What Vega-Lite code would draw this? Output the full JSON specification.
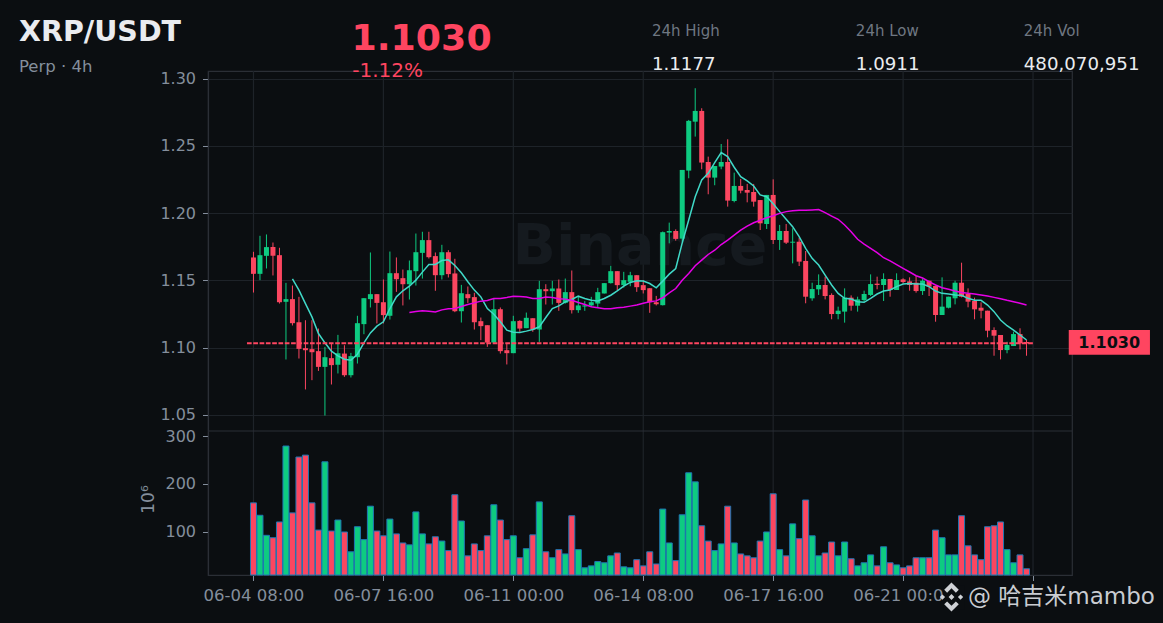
{
  "$schema": "https://vega.github.io/schema/vega-lite/v6.json",
  "description": "XRP/USDT perp 4h candles with MA lines and volume",
  "width": 864,
  "height": 504,
  "autosize": {"type": "none"},
  "padding": {"left": 208, "top": 71, "right": 91, "bottom": 48},
  "background": "#0b0e11",
  "config": {
    "font": "DejaVu Sans",
    "view": {"stroke": "#2b2f36", "strokeWidth": 1.2},
    "axis": {
      "labelColor": "#848e9c", "labelFontSize": 16, "titleColor": "#848e9c",
      "gridColor": "#1e2329", "gridWidth": 1.2, "domainColor": "#2b2f36", "domainWidth": 1.2,
      "tickColor": "#848e9c", "tickSize": 5.5, "tickWidth": 1, "labelPadding": 7
    }
  },
  "title": {
    "text": "XRP/USDT",
    "subtitle": "Perp · 4h",
    "anchor": "start",
    "frame": "group",
    "dx": -189,
    "offset": -55,
    "fontSize": 28.5,
    "fontWeight": "bold",
    "color": "#eaecef",
    "subtitleFontSize": 16.5,
    "subtitleColor": "#848e9c",
    "subtitlePadding": 13
  },
  "datasets": {
    "candles": [
      {"t":"2025-06-04T08:00Z","o":1.1670,"h":1.1712,"l":1.1409,"c":1.1548,"v":160,"side":"down","ma7":null,"ma25":null},
      {"t":"2025-06-04T12:00Z","o":1.1548,"h":1.1831,"l":1.1501,"c":1.1687,"v":134,"side":"up","ma7":null,"ma25":null},
      {"t":"2025-06-04T16:00Z","o":1.1682,"h":1.1841,"l":1.1588,"c":1.1747,"v":92,"side":"up","ma7":null,"ma25":null},
      {"t":"2025-06-04T20:00Z","o":1.1747,"h":1.1781,"l":1.1536,"c":1.1682,"v":87,"side":"down","ma7":null,"ma25":null},
      {"t":"2025-06-05T00:00Z","o":1.1687,"h":1.1742,"l":1.1327,"c":1.1337,"v":120,"side":"down","ma7":null,"ma25":null},
      {"t":"2025-06-05T04:00Z","o":1.1340,"h":1.1481,"l":1.0911,"c":1.1360,"v":279,"side":"up","ma7":null,"ma25":null},
      {"t":"2025-06-05T08:00Z","o":1.1360,"h":1.1461,"l":1.1164,"c":1.1181,"v":139,"side":"down","ma7":1.1511,"ma25":null},
      {"t":"2025-06-05T12:00Z","o":1.1188,"h":1.1377,"l":1.0918,"c":1.0990,"v":256,"side":"down","ma7":1.1427,"ma25":null},
      {"t":"2025-06-05T16:00Z","o":1.0995,"h":1.1203,"l":1.0688,"c":1.0980,"v":260,"side":"down","ma7":1.1327,"ma25":null},
      {"t":"2025-06-05T20:00Z","o":1.0988,"h":1.1203,"l":1.0757,"c":1.0965,"v":160,"side":"down","ma7":1.1228,"ma25":null},
      {"t":"2025-06-06T00:00Z","o":1.0973,"h":1.1141,"l":1.0826,"c":1.0856,"v":103,"side":"down","ma7":1.1104,"ma25":null},
      {"t":"2025-06-06T04:00Z","o":1.0856,"h":1.1005,"l":1.0494,"c":1.0928,"v":246,"side":"up","ma7":1.1035,"ma25":null},
      {"t":"2025-06-06T08:00Z","o":1.0921,"h":1.1030,"l":1.0725,"c":1.0869,"v":101,"side":"down","ma7":1.0973,"ma25":null},
      {"t":"2025-06-06T12:00Z","o":1.0871,"h":1.1094,"l":1.0807,"c":1.0958,"v":124,"side":"up","ma7":1.0938,"ma25":null},
      {"t":"2025-06-06T16:00Z","o":1.0955,"h":1.1017,"l":1.0782,"c":1.0794,"v":99,"side":"down","ma7":1.0913,"ma25":null},
      {"t":"2025-06-06T20:00Z","o":1.0794,"h":1.0960,"l":1.0777,"c":1.0936,"v":57.5,"side":"up","ma7":1.0906,"ma25":null},
      {"t":"2025-06-07T00:00Z","o":1.0928,"h":1.1236,"l":1.0881,"c":1.1181,"v":110,"side":"up","ma7":1.0950,"ma25":null},
      {"t":"2025-06-07T04:00Z","o":1.1174,"h":1.1367,"l":1.1099,"c":1.1367,"v":83,"side":"up","ma7":1.1035,"ma25":null},
      {"t":"2025-06-07T08:00Z","o":1.1360,"h":1.1707,"l":1.1298,"c":1.1397,"v":153,"side":"up","ma7":1.1109,"ma25":null},
      {"t":"2025-06-07T12:00Z","o":1.1397,"h":1.1397,"l":1.1179,"c":1.1332,"v":101,"side":"down","ma7":1.1159,"ma25":null},
      {"t":"2025-06-07T16:00Z","o":1.1337,"h":1.1506,"l":1.1179,"c":1.1241,"v":91,"side":"down","ma7":1.1191,"ma25":null},
      {"t":"2025-06-07T20:00Z","o":1.1236,"h":1.1714,"l":1.1208,"c":1.1553,"v":126,"side":"up","ma7":1.1290,"ma25":null},
      {"t":"2025-06-08T00:00Z","o":1.1553,"h":1.1670,"l":1.1414,"c":1.1508,"v":95,"side":"down","ma7":1.1377,"ma25":null},
      {"t":"2025-06-08T04:00Z","o":1.1516,"h":1.1580,"l":1.1313,"c":1.1471,"v":76,"side":"down","ma7":1.1422,"ma25":null},
      {"t":"2025-06-08T08:00Z","o":1.1471,"h":1.1647,"l":1.1357,"c":1.1575,"v":72,"side":"up","ma7":1.1456,"ma25":1.1260},
      {"t":"2025-06-08T12:00Z","o":1.1568,"h":1.1848,"l":1.1461,"c":1.1709,"v":141,"side":"up","ma7":1.1501,"ma25":1.1268},
      {"t":"2025-06-08T16:00Z","o":1.1704,"h":1.1861,"l":1.1513,"c":1.1799,"v":95,"side":"up","ma7":1.1561,"ma25":1.1273},
      {"t":"2025-06-08T20:00Z","o":1.1799,"h":1.1861,"l":1.1662,"c":1.1672,"v":74,"side":"down","ma7":1.1618,"ma25":1.1270},
      {"t":"2025-06-09T00:00Z","o":1.1680,"h":1.1707,"l":1.1422,"c":1.1538,"v":89,"side":"down","ma7":1.1618,"ma25":1.1265},
      {"t":"2025-06-09T04:00Z","o":1.1538,"h":1.1764,"l":1.1506,"c":1.1709,"v":80,"side":"up","ma7":1.1647,"ma25":1.1280},
      {"t":"2025-06-09T08:00Z","o":1.1709,"h":1.1724,"l":1.1521,"c":1.1546,"v":60,"side":"down","ma7":1.1652,"ma25":1.1288},
      {"t":"2025-06-09T12:00Z","o":1.1551,"h":1.1660,"l":1.1263,"c":1.1270,"v":177,"side":"down","ma7":1.1610,"ma25":1.1290},
      {"t":"2025-06-09T16:00Z","o":1.1270,"h":1.1466,"l":1.1186,"c":1.1404,"v":122,"side":"up","ma7":1.1556,"ma25":1.1305},
      {"t":"2025-06-09T20:00Z","o":1.1397,"h":1.1454,"l":1.1332,"c":1.1367,"v":49,"side":"down","ma7":1.1489,"ma25":1.1320},
      {"t":"2025-06-10T00:00Z","o":1.1375,"h":1.1407,"l":1.1134,"c":1.1188,"v":74,"side":"down","ma7":1.1427,"ma25":1.1332},
      {"t":"2025-06-10T04:00Z","o":1.1196,"h":1.1223,"l":1.1055,"c":1.1159,"v":60,"side":"down","ma7":1.1377,"ma25":1.1345},
      {"t":"2025-06-10T08:00Z","o":1.1166,"h":1.1166,"l":1.1005,"c":1.1037,"v":91,"side":"down","ma7":1.1290,"ma25":1.1350},
      {"t":"2025-06-10T12:00Z","o":1.1037,"h":1.1365,"l":1.1030,"c":1.1285,"v":156,"side":"up","ma7":1.1248,"ma25":1.1365},
      {"t":"2025-06-10T16:00Z","o":1.1285,"h":1.1298,"l":1.0955,"c":1.0973,"v":124,"side":"down","ma7":1.1191,"ma25":1.1365},
      {"t":"2025-06-10T20:00Z","o":1.0980,"h":1.1030,"l":1.0874,"c":1.0958,"v":83,"side":"down","ma7":1.1129,"ma25":1.1372},
      {"t":"2025-06-11T00:00Z","o":1.0958,"h":1.1236,"l":1.0958,"c":1.1196,"v":91,"side":"up","ma7":1.1114,"ma25":1.1382},
      {"t":"2025-06-11T04:00Z","o":1.1198,"h":1.1203,"l":1.1117,"c":1.1141,"v":45,"side":"down","ma7":1.1112,"ma25":1.1379},
      {"t":"2025-06-11T08:00Z","o":1.1144,"h":1.1260,"l":1.1144,"c":1.1221,"v":64,"side":"up","ma7":1.1122,"ma25":1.1375},
      {"t":"2025-06-11T12:00Z","o":1.1218,"h":1.1218,"l":1.1117,"c":1.1134,"v":93,"side":"down","ma7":1.1134,"ma25":1.1365},
      {"t":"2025-06-11T16:00Z","o":1.1134,"h":1.1496,"l":1.1042,"c":1.1434,"v":162,"side":"up","ma7":1.1154,"ma25":1.1365},
      {"t":"2025-06-11T20:00Z","o":1.1434,"h":1.1471,"l":1.1320,"c":1.1419,"v":57.5,"side":"down","ma7":1.1223,"ma25":1.1375},
      {"t":"2025-06-12T00:00Z","o":1.1419,"h":1.1496,"l":1.1320,"c":1.1439,"v":45,"side":"up","ma7":1.1290,"ma25":1.1372},
      {"t":"2025-06-12T04:00Z","o":1.1439,"h":1.1506,"l":1.1273,"c":1.1332,"v":62,"side":"down","ma7":1.1310,"ma25":1.1362},
      {"t":"2025-06-12T08:00Z","o":1.1332,"h":1.1513,"l":1.1327,"c":1.1412,"v":53,"side":"up","ma7":1.1340,"ma25":1.1360},
      {"t":"2025-06-12T12:00Z","o":1.1412,"h":1.1573,"l":1.1253,"c":1.1278,"v":133,"side":"down","ma7":1.1357,"ma25":1.1352},
      {"t":"2025-06-12T16:00Z","o":1.1278,"h":1.1377,"l":1.1258,"c":1.1313,"v":62,"side":"up","ma7":1.1382,"ma25":1.1335},
      {"t":"2025-06-12T20:00Z","o":1.1305,"h":1.1345,"l":1.1273,"c":1.1313,"v":24,"side":"up","ma7":1.1365,"ma25":1.1320},
      {"t":"2025-06-13T00:00Z","o":1.1313,"h":1.1377,"l":1.1303,"c":1.1337,"v":28,"side":"up","ma7":1.1352,"ma25":1.1303},
      {"t":"2025-06-13T04:00Z","o":1.1327,"h":1.1444,"l":1.1298,"c":1.1412,"v":37,"side":"up","ma7":1.1347,"ma25":1.1295},
      {"t":"2025-06-13T08:00Z","o":1.1402,"h":1.1479,"l":1.1402,"c":1.1479,"v":34.5,"side":"up","ma7":1.1365,"ma25":1.1288},
      {"t":"2025-06-13T12:00Z","o":1.1479,"h":1.1608,"l":1.1476,"c":1.1568,"v":49,"side":"up","ma7":1.1389,"ma25":1.1288},
      {"t":"2025-06-13T16:00Z","o":1.1568,"h":1.1568,"l":1.1427,"c":1.1464,"v":55,"side":"down","ma7":1.1422,"ma25":1.1295},
      {"t":"2025-06-13T20:00Z","o":1.1464,"h":1.1563,"l":1.1446,"c":1.1501,"v":26,"side":"up","ma7":1.1456,"ma25":1.1300},
      {"t":"2025-06-14T00:00Z","o":1.1489,"h":1.1563,"l":1.1456,"c":1.1538,"v":24,"side":"up","ma7":1.1484,"ma25":1.1308},
      {"t":"2025-06-14T04:00Z","o":1.1538,"h":1.1538,"l":1.1414,"c":1.1449,"v":41,"side":"down","ma7":1.1496,"ma25":1.1317},
      {"t":"2025-06-14T08:00Z","o":1.1464,"h":1.1501,"l":1.1402,"c":1.1427,"v":28,"side":"down","ma7":1.1494,"ma25":1.1330},
      {"t":"2025-06-14T12:00Z","o":1.1441,"h":1.1441,"l":1.1258,"c":1.1337,"v":57.5,"side":"down","ma7":1.1476,"ma25":1.1340},
      {"t":"2025-06-14T16:00Z","o":1.1337,"h":1.1384,"l":1.1313,"c":1.1322,"v":32,"side":"down","ma7":1.1444,"ma25":1.1347},
      {"t":"2025-06-14T20:00Z","o":1.1315,"h":1.1863,"l":1.1313,"c":1.1858,"v":147,"side":"up","ma7":1.1494,"ma25":1.1370},
      {"t":"2025-06-15T00:00Z","o":1.1855,"h":1.1929,"l":1.1775,"c":1.1867,"v":76,"side":"up","ma7":1.1546,"ma25":1.1407},
      {"t":"2025-06-15T04:00Z","o":1.1867,"h":1.1879,"l":1.1795,"c":1.1808,"v":39,"side":"down","ma7":1.1588,"ma25":1.1439},
      {"t":"2025-06-15T08:00Z","o":1.1810,"h":1.2321,"l":1.1787,"c":1.2321,"v":135,"side":"up","ma7":1.1778,"ma25":1.1501},
      {"t":"2025-06-15T12:00Z","o":1.2316,"h":1.2693,"l":1.2259,"c":1.2686,"v":223,"side":"up","ma7":1.1949,"ma25":1.1551},
      {"t":"2025-06-15T16:00Z","o":1.2680,"h":1.2929,"l":1.2569,"c":1.2760,"v":204,"side":"up","ma7":1.2122,"ma25":1.1608},
      {"t":"2025-06-15T20:00Z","o":1.2760,"h":1.2780,"l":1.2326,"c":1.2376,"v":112,"side":"down","ma7":1.2246,"ma25":1.1650},
      {"t":"2025-06-16T00:00Z","o":1.2380,"h":1.2420,"l":1.2140,"c":1.2264,"v":80,"side":"down","ma7":1.2296,"ma25":1.1692},
      {"t":"2025-06-16T04:00Z","o":1.2264,"h":1.2350,"l":1.2207,"c":1.2350,"v":60,"side":"up","ma7":1.2375,"ma25":1.1724},
      {"t":"2025-06-16T08:00Z","o":1.2346,"h":1.2514,"l":1.2326,"c":1.2380,"v":74,"side":"up","ma7":1.2450,"ma25":1.1766},
      {"t":"2025-06-16T12:00Z","o":1.2380,"h":1.2549,"l":1.2048,"c":1.2093,"v":153,"side":"down","ma7":1.2420,"ma25":1.1799},
      {"t":"2025-06-16T16:00Z","o":1.2090,"h":1.2301,"l":1.2080,"c":1.2202,"v":76,"side":"up","ma7":1.2341,"ma25":1.1836},
      {"t":"2025-06-16T20:00Z","o":1.2202,"h":1.2254,"l":1.2147,"c":1.2167,"v":53,"side":"down","ma7":1.2271,"ma25":1.1873},
      {"t":"2025-06-17T00:00Z","o":1.2172,"h":1.2217,"l":1.2080,"c":1.2152,"v":49,"side":"down","ma7":1.2239,"ma25":1.1903},
      {"t":"2025-06-17T04:00Z","o":1.2157,"h":1.2217,"l":1.2048,"c":1.2085,"v":45,"side":"down","ma7":1.2202,"ma25":1.1928},
      {"t":"2025-06-17T08:00Z","o":1.2097,"h":1.2097,"l":1.1874,"c":1.1924,"v":80,"side":"down","ma7":1.2135,"ma25":1.1947},
      {"t":"2025-06-17T12:00Z","o":1.1919,"h":1.2135,"l":1.1882,"c":1.2135,"v":99,"side":"up","ma7":1.2122,"ma25":1.1965},
      {"t":"2025-06-17T16:00Z","o":1.2135,"h":1.2251,"l":1.1770,"c":1.1800,"v":179,"side":"down","ma7":1.2070,"ma25":1.1980},
      {"t":"2025-06-17T20:00Z","o":1.1800,"h":1.1912,"l":1.1726,"c":1.1867,"v":62,"side":"up","ma7":1.2011,"ma25":1.1998},
      {"t":"2025-06-18T00:00Z","o":1.1867,"h":1.1919,"l":1.1770,"c":1.1780,"v":49,"side":"down","ma7":1.1954,"ma25":1.2011},
      {"t":"2025-06-18T04:00Z","o":1.1780,"h":1.1887,"l":1.1626,"c":1.1787,"v":116,"side":"up","ma7":1.1899,"ma25":1.2018},
      {"t":"2025-06-18T08:00Z","o":1.1787,"h":1.1817,"l":1.1606,"c":1.1639,"v":85,"side":"down","ma7":1.1825,"ma25":1.2021},
      {"t":"2025-06-18T12:00Z","o":1.1644,"h":1.1718,"l":1.1329,"c":1.1378,"v":166,"side":"down","ma7":1.1738,"ma25":1.2021},
      {"t":"2025-06-18T16:00Z","o":1.1366,"h":1.1482,"l":1.1348,"c":1.1435,"v":91,"side":"up","ma7":1.1663,"ma25":1.2023},
      {"t":"2025-06-18T20:00Z","o":1.1433,"h":1.1544,"l":1.1391,"c":1.1465,"v":49,"side":"up","ma7":1.1614,"ma25":1.2026},
      {"t":"2025-06-19T00:00Z","o":1.1465,"h":1.1527,"l":1.1358,"c":1.1383,"v":55,"side":"down","ma7":1.1539,"ma25":1.2003},
      {"t":"2025-06-19T04:00Z","o":1.1391,"h":1.1403,"l":1.1210,"c":1.1249,"v":78,"side":"down","ma7":1.1465,"ma25":1.1978},
      {"t":"2025-06-19T08:00Z","o":1.1249,"h":1.1304,"l":1.1210,"c":1.1274,"v":49,"side":"up","ma7":1.1403,"ma25":1.1954},
      {"t":"2025-06-19T12:00Z","o":1.1267,"h":1.1440,"l":1.1185,"c":1.1371,"v":78,"side":"up","ma7":1.1366,"ma25":1.1911},
      {"t":"2025-06-19T16:00Z","o":1.1371,"h":1.1388,"l":1.1274,"c":1.1311,"v":43,"side":"down","ma7":1.1361,"ma25":1.1862},
      {"t":"2025-06-19T20:00Z","o":1.1311,"h":1.1378,"l":1.1267,"c":1.1358,"v":28,"side":"up","ma7":1.1341,"ma25":1.1805},
      {"t":"2025-06-20T00:00Z","o":1.1353,"h":1.1423,"l":1.1341,"c":1.1398,"v":34.5,"side":"up","ma7":1.1336,"ma25":1.1770},
      {"t":"2025-06-20T04:00Z","o":1.1391,"h":1.1544,"l":1.1383,"c":1.1472,"v":51,"side":"up","ma7":1.1366,"ma25":1.1738},
      {"t":"2025-06-20T08:00Z","o":1.1475,"h":1.1527,"l":1.1433,"c":1.1465,"v":28,"side":"down","ma7":1.1398,"ma25":1.1706},
      {"t":"2025-06-20T12:00Z","o":1.1465,"h":1.1552,"l":1.1346,"c":1.1510,"v":68,"side":"up","ma7":1.1420,"ma25":1.1668},
      {"t":"2025-06-20T16:00Z","o":1.1510,"h":1.1510,"l":1.1378,"c":1.1428,"v":34.5,"side":"down","ma7":1.1428,"ma25":1.1644},
      {"t":"2025-06-20T20:00Z","o":1.1428,"h":1.1552,"l":1.1428,"c":1.1502,"v":30,"side":"up","ma7":1.1453,"ma25":1.1616},
      {"t":"2025-06-21T00:00Z","o":1.1507,"h":1.1515,"l":1.1477,"c":1.1487,"v":24,"side":"down","ma7":1.1472,"ma25":1.1589},
      {"t":"2025-06-21T04:00Z","o":1.1492,"h":1.1522,"l":1.1423,"c":1.1465,"v":28,"side":"down","ma7":1.1477,"ma25":1.1562},
      {"t":"2025-06-21T08:00Z","o":1.1482,"h":1.1532,"l":1.1408,"c":1.1420,"v":45,"side":"down","ma7":1.1472,"ma25":1.1534},
      {"t":"2025-06-21T12:00Z","o":1.1420,"h":1.1512,"l":1.1391,"c":1.1497,"v":45,"side":"up","ma7":1.1472,"ma25":1.1517},
      {"t":"2025-06-21T16:00Z","o":1.1497,"h":1.1497,"l":1.1383,"c":1.1453,"v":45,"side":"down","ma7":1.1453,"ma25":1.1490},
      {"t":"2025-06-21T20:00Z","o":1.1458,"h":1.1458,"l":1.1192,"c":1.1242,"v":103,"side":"down","ma7":1.1420,"ma25":1.1465},
      {"t":"2025-06-22T00:00Z","o":1.1242,"h":1.1522,"l":1.1242,"c":1.1304,"v":87,"side":"up","ma7":1.1403,"ma25":1.1445},
      {"t":"2025-06-22T04:00Z","o":1.1296,"h":1.1378,"l":1.1291,"c":1.1378,"v":51,"side":"up","ma7":1.1398,"ma25":1.1433},
      {"t":"2025-06-22T08:00Z","o":1.1366,"h":1.1497,"l":1.1321,"c":1.1482,"v":51,"side":"up","ma7":1.1391,"ma25":1.1420},
      {"t":"2025-06-22T12:00Z","o":1.1482,"h":1.1631,"l":1.1373,"c":1.1378,"v":133,"side":"down","ma7":1.1388,"ma25":1.1410},
      {"t":"2025-06-22T16:00Z","o":1.1398,"h":1.1440,"l":1.1299,"c":1.1341,"v":70,"side":"down","ma7":1.1366,"ma25":1.1403},
      {"t":"2025-06-22T20:00Z","o":1.1346,"h":1.1371,"l":1.1210,"c":1.1284,"v":51,"side":"down","ma7":1.1351,"ma25":1.1398},
      {"t":"2025-06-23T00:00Z","o":1.1296,"h":1.1336,"l":1.1217,"c":1.1274,"v":41,"side":"down","ma7":1.1351,"ma25":1.1391},
      {"t":"2025-06-23T04:00Z","o":1.1274,"h":1.1274,"l":1.1076,"c":1.1125,"v":110,"side":"down","ma7":1.1316,"ma25":1.1383},
      {"t":"2025-06-23T08:00Z","o":1.1130,"h":1.1150,"l":1.0939,"c":1.1088,"v":112,"side":"down","ma7":1.1267,"ma25":1.1373},
      {"t":"2025-06-23T12:00Z","o":1.1093,"h":1.1093,"l":1.0912,"c":1.0981,"v":120,"side":"down","ma7":1.1205,"ma25":1.1363},
      {"t":"2025-06-23T16:00Z","o":1.0981,"h":1.1043,"l":1.0957,"c":1.1019,"v":62,"side":"up","ma7":1.1162,"ma25":1.1351},
      {"t":"2025-06-23T20:00Z","o":1.1011,"h":1.1118,"l":1.1011,"c":1.1100,"v":34.5,"side":"up","ma7":1.1130,"ma25":1.1341},
      {"t":"2025-06-24T00:00Z","o":1.1100,"h":1.1143,"l":1.0986,"c":1.1031,"v":51,"side":"down","ma7":1.1093,"ma25":1.1329},
      {"t":"2025-06-24T04:00Z","o":1.1041,"h":1.1056,"l":1.0939,"c":1.1030,"v":22,"side":"down","ma7":1.1056,"ma25":1.1316}
    ]
  },
  "data": {"name": "candles"},
  "encoding": {
    "x": {
      "field": "t",
      "type": "temporal",
      "title": null,
      "scale": {"type": "utc", "domain": ["2025-06-03T04:00:00Z", "2025-06-25T08:00:00Z"], "nice": false, "padding": 0},
      "axis": {
        "values": ["2025-06-04T08:00:00Z", "2025-06-07T16:00:00Z", "2025-06-11T00:00:00Z", "2025-06-14T08:00:00Z", "2025-06-17T16:00:00Z", "2025-06-21T00:00:00Z", "2025-06-24T08:00:00Z"],
        "labelExpr": "utcdate(datum.value) == 24 ? '' : utcFormat(datum.value, '%m-%d %H:%M')",
        "labelFontSize": 16.5,
        "labelOverlap": false,
        "labelFlush": false,
        "grid": false
      }
    },
    "color": {
      "field": "side",
      "type": "nominal",
      "legend": null,
      "scale": {"domain": ["up", "down"], "range": ["#0ecb81", "#fb4660"]}
    }
  },
  "layer": [
    {
      "data": {"values": [
        {"t": "2025-06-04T08:00:00Z"},
        {"t": "2025-06-07T16:00:00Z"},
        {"t": "2025-06-11T00:00:00Z"},
        {"t": "2025-06-14T08:00:00Z"},
        {"t": "2025-06-17T16:00:00Z"},
        {"t": "2025-06-21T00:00:00Z"},
        {"t": "2025-06-24T08:00:00Z"}
      ]},
      "mark": {"type": "rule", "strokeWidth": 1.2},
      "encoding": {"color": {"value": "#1e2329"}}
    },
    {
      "layer": [
        {
          "data": {"values": [{"t": "2025-06-14T06:00:00Z", "p": 1.174, "label": "Binance"}]},
          "mark": {"type": "text", "fontSize": 57, "fontWeight": "bold", "align": "center", "baseline": "middle"},
          "encoding": {
            "color": {"value": "#151a1f"},
            "text": {"field": "label"},
            "y": {
              "field": "p",
              "type": "quantitative",
              "title": null,
              "scale": {"domain": [1.0379, 1.3057], "range": [360, 0], "nice": false, "zero": false},
              "axis": {"orient": "left", "values": [1.05, 1.10, 1.15, 1.20, 1.25, 1.30], "format": ".2f", "title": null}
            }
          }
        },
        {
          "mark": {"type": "rule", "strokeWidth": 1},
          "encoding": {
            "y": {"field": "l", "type": "quantitative", "title": null},
            "y2": {"field": "h"}
          }
        },
        {
          "mark": {"type": "bar", "size": 5},
          "encoding": {
            "y": {"field": "o", "type": "quantitative", "title": null},
            "y2": {"field": "c"}
          }
        },
        {
          "mark": {"type": "line", "strokeWidth": 1.5},
          "encoding": {
            "color": {"value": "#40d9c8"},
            "y": {"field": "ma7", "type": "quantitative", "title": null}
          }
        },
        {
          "mark": {"type": "line", "strokeWidth": 1.5},
          "encoding": {
            "color": {"value": "#e600e6"},
            "y": {"field": "ma25", "type": "quantitative", "title": null}
          }
        },
        {
          "data": {"values": [{"t": "2025-06-04T04:00:00Z", "t2": "2025-06-24T08:00:00Z", "p": 1.1032}]},
          "mark": {"type": "rule", "strokeWidth": 2, "strokeDash": [4.7, 1.6]},
          "encoding": {
            "color": {"value": "#ff4560"},
            "x2": {"field": "t2"},
            "y": {"field": "p", "type": "quantitative", "title": null}
          }
        },
        {
          "data": {"values": [{"t": "2025-06-25T06:00:00Z", "t2": "2025-06-27T08:00:00Z", "p": 1.0946, "p2": 1.1130}]},
          "mark": {"type": "rect"},
          "encoding": {
            "color": {"value": "#ff4560"},
            "x2": {"field": "t2"},
            "y": {"field": "p", "type": "quantitative", "title": null},
            "y2": {"field": "p2"}
          }
        },
        {
          "data": {"values": [{"t": "2025-06-26T06:54:00Z", "p": 1.1037, "label": "1.1030"}]},
          "mark": {"type": "text", "fontSize": 16, "fontWeight": "bold", "align": "center", "baseline": "middle"},
          "encoding": {
            "color": {"value": "#0b0e11"},
            "text": {"field": "label"},
            "y": {"field": "p", "type": "quantitative", "title": null}
          }
        },
        {
          "data": {"values": [{"t": "2025-06-06T20:24:00Z", "p": 1.3214, "label": "1.1030"}]},
          "mark": {"type": "text", "fontSize": 36.3, "fontWeight": "bold", "align": "left", "baseline": "alphabetic"},
          "encoding": {
            "color": {"value": "#ff4560"},
            "text": {"field": "label"},
            "y": {"field": "p", "type": "quantitative", "title": null}
          }
        },
        {
          "data": {"values": [{"t": "2025-06-06T20:48:00Z", "p": 1.3013, "label": "-1.12%"}]},
          "mark": {"type": "text", "fontSize": 20, "align": "left", "baseline": "alphabetic"},
          "encoding": {
            "color": {"value": "#ff4560"},
            "text": {"field": "label"},
            "y": {"field": "p", "type": "quantitative", "title": null}
          }
        },
        {
          "data": {"values": [
            {"t": "2025-06-14T13:21:00Z", "p": 1.3318, "label": "24h High"},
            {"t": "2025-06-19T18:54:00Z", "p": 1.3318, "label": "24h Low"},
            {"t": "2025-06-24T02:18:00Z", "p": 1.3318, "label": "24h Vol"}
          ]},
          "mark": {"type": "text", "fontSize": 15, "align": "left", "baseline": "alphabetic"},
          "encoding": {
            "color": {"value": "#6f7782"},
            "text": {"field": "label"},
            "y": {"field": "p", "type": "quantitative", "title": null}
          }
        },
        {
          "data": {"values": [
            {"t": "2025-06-14T13:21:00Z", "p": 1.3068, "label": "1.1177"},
            {"t": "2025-06-19T18:54:00Z", "p": 1.3068, "label": "1.0911"},
            {"t": "2025-06-24T02:18:00Z", "p": 1.3068, "label": "480,070,951"}
          ]},
          "mark": {"type": "text", "fontSize": 18.2, "align": "left", "baseline": "alphabetic"},
          "encoding": {
            "color": {"value": "#eaecef"},
            "text": {"field": "label"},
            "y": {"field": "p", "type": "quantitative", "title": null}
          }
        },
        {
          "data": {"values": [{"t": "2025-06-22T01:00:00Z", "t2": "2025-06-22T14:00:00Z", "p": 0.9054, "p2": 0.9233}]},
          "mark": {"type": "rect"},
          "encoding": {
            "color": {"value": "#0b0e11"},
            "x2": {"field": "t2"},
            "y": {"field": "p", "type": "quantitative", "title": null},
            "y2": {"field": "p2"}
          }
        },
        {
          "data": {"values": [{"t": "2025-06-22T05:48:00Z", "p": 0.9144}]},
          "mark": {
            "type": "point",
            "filled": true,
            "opacity": 1,
            "size": 850,
            "shape": "M0,-0.2L0.2,0L0,0.2L-0.2,0ZM-0.8,0L-0.62,-0.18L-0.44,0L-0.62,0.18ZM0.44,0L0.62,-0.18L0.8,0L0.62,0.18ZM0,-1L0.5,-0.5L0.3,-0.3L0,-0.6L-0.3,-0.3L-0.5,-0.5ZM0,1L0.5,0.5L0.3,0.3L0,0.6L-0.3,0.3L-0.5,0.5Z"
          },
          "encoding": {
            "color": {"value": "#cfd2d6"},
            "y": {"field": "p", "type": "quantitative", "title": null}
          }
        },
        {
          "data": {"values": [{"t": "2025-06-22T16:00:00Z", "p": 0.9144, "label": "@ 哈吉米mambo"}]},
          "mark": {"type": "text", "fontSize": 23, "font": "DejaVu Sans, Noto Sans CJK SC", "align": "left", "baseline": "middle"},
          "encoding": {
            "color": {"value": "#c9ccd1"},
            "text": {"field": "label"},
            "y": {"field": "p", "type": "quantitative", "title": null}
          }
        }
      ]
    },
    {
      "layer": [
        {
          "mark": {"type": "bar", "size": 6, "stroke": "#1f77b4", "strokeWidth": 1},
          "encoding": {
            "y": {
              "field": "v",
              "type": "quantitative",
              "scale": {"domain": [8.9, 310.5], "range": [504, 360], "nice": false, "zero": false},
              "axis": {"orient": "left", "values": [100, 200, 300], "title": "10⁶", "titleFontSize": 17, "titleFontWeight": "normal", "titlePadding": 7, "titleY": 428}
            },
            "y2": {"datum": 8.9}
          }
        },
        {
          "data": {"values": [{"t": "2025-06-03T04:00:00Z", "t2": "2025-06-25T08:00:00Z", "v": 310.5}]},
          "mark": {"type": "rule", "strokeWidth": 1.2},
          "encoding": {
            "color": {"value": "#2b2f36"},
            "x2": {"field": "t2"},
            "y": {"field": "v", "type": "quantitative"}
          }
        }
      ]
    }
  ],
  "resolve": {"scale": {"y": "independent"}, "axis": {"y": "independent"}}
}
